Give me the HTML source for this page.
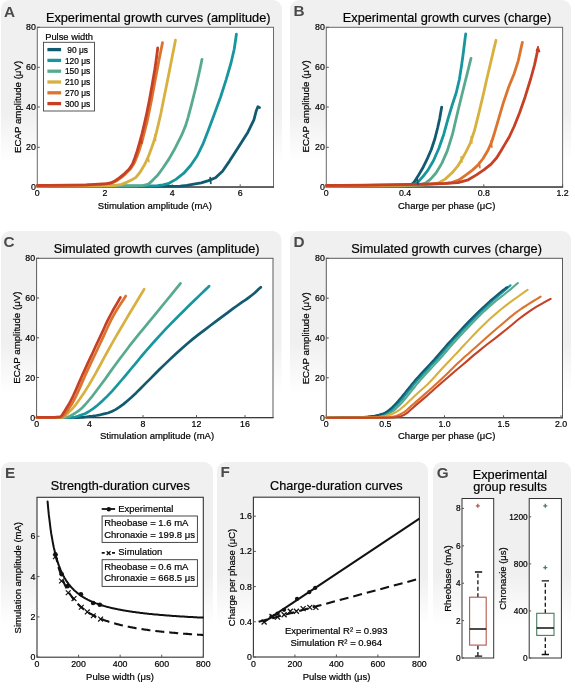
<!DOCTYPE html>
<html><head><meta charset="utf-8"><style>html,body{margin:0;padding:0;background:#fff;width:575px;height:693px;overflow:hidden}svg{display:block;filter:blur(0.35px)}</style></head><body>
<svg width="575" height="693" viewBox="0 0 575 693" font-family='"Liberation Sans", sans-serif'>
<defs><linearGradient id="pg" x1="0" y1="0" x2="0" y2="1"><stop offset="0" stop-color="#f0f0f0"/><stop offset="0.5" stop-color="#f0f0f0"/><stop offset="0.72" stop-color="#fff"/></linearGradient></defs>
<rect width="575" height="693" fill="#fff"/>
<rect x="1" y="0" width="281" height="226" rx="9" ry="9" fill="url(#pg)"/>
<rect x="290" y="0" width="281" height="226" rx="9" ry="9" fill="url(#pg)"/>
<rect x="1" y="231" width="280.5" height="226" rx="9" ry="9" fill="url(#pg)"/>
<rect x="290" y="231" width="281" height="226" rx="9" ry="9" fill="url(#pg)"/>
<rect x="1" y="462" width="212" height="226" rx="9" ry="9" fill="url(#pg)"/>
<rect x="217" y="462" width="211" height="226" rx="9" ry="9" fill="url(#pg)"/>
<rect x="433" y="462" width="138" height="226" rx="9" ry="9" fill="url(#pg)"/>
<text x="4" y="17" font-size="15.3" font-weight="bold" fill="#4a4a4a">A</text>
<text x="45.9" y="21.9" font-size="12.75" text-anchor="start" fill="#000" stroke="#000" stroke-width="0.2" >Experimental growth curves (amplitude)</text>
<rect x="37.3" y="27.3" width="236.2" height="159.5" fill="#fff" stroke="#6a6a6a" stroke-width="1.0"/>
<line x1="36.8" y1="187.1" x2="274.0" y2="187.1" stroke="#3a3a3a" stroke-width="1.1"/>
<line x1="37.3" y1="186.8" x2="37.3" y2="184.3" stroke="#555" stroke-width="1"/>
<text x="37.3" y="196.3" font-size="8.8" text-anchor="middle" fill="#000" stroke="#000" stroke-width="0.2" >0</text>
<line x1="104.9" y1="186.8" x2="104.9" y2="184.3" stroke="#555" stroke-width="1"/>
<text x="104.9" y="196.3" font-size="8.8" text-anchor="middle" fill="#000" stroke="#000" stroke-width="0.2" >2</text>
<line x1="172.2" y1="186.8" x2="172.2" y2="184.3" stroke="#555" stroke-width="1"/>
<text x="172.2" y="196.3" font-size="8.8" text-anchor="middle" fill="#000" stroke="#000" stroke-width="0.2" >4</text>
<line x1="240.2" y1="186.8" x2="240.2" y2="184.3" stroke="#555" stroke-width="1"/>
<text x="240.2" y="196.3" font-size="8.8" text-anchor="middle" fill="#000" stroke="#000" stroke-width="0.2" >6</text>
<line x1="37.3" y1="186.8" x2="39.8" y2="186.8" stroke="#555" stroke-width="1"/>
<text x="35.8" y="189.8" font-size="8.8" text-anchor="end" fill="#000" stroke="#000" stroke-width="0.2" >0</text>
<line x1="37.3" y1="147.3" x2="39.8" y2="147.3" stroke="#555" stroke-width="1"/>
<text x="35.8" y="150.3" font-size="8.8" text-anchor="end" fill="#000" stroke="#000" stroke-width="0.2" >20</text>
<line x1="37.3" y1="107" x2="39.8" y2="107" stroke="#555" stroke-width="1"/>
<text x="35.8" y="110" font-size="8.8" text-anchor="end" fill="#000" stroke="#000" stroke-width="0.2" >40</text>
<line x1="37.3" y1="67.3" x2="39.8" y2="67.3" stroke="#555" stroke-width="1"/>
<text x="35.8" y="70.3" font-size="8.8" text-anchor="end" fill="#000" stroke="#000" stroke-width="0.2" >60</text>
<line x1="37.3" y1="27.3" x2="39.8" y2="27.3" stroke="#555" stroke-width="1"/>
<text x="35.8" y="30.3" font-size="8.8" text-anchor="end" fill="#000" stroke="#000" stroke-width="0.2" >80</text>
<text x="97.8" y="209" font-size="9.5" text-anchor="start" fill="#000" stroke="#000" stroke-width="0.2" >Stimulation amplitude (mA)</text>
<text transform="translate(20.6,106.9) rotate(-90)" font-size="9.7" text-anchor="middle" stroke="#000" stroke-width="0.2">ECAP amplitude (μV)</text>
<polyline points="37.5,186.3 72.4,186.4 142.1,186.4 180.2,186.1 186.8,185.4 193.8,184.2 201.2,182.8 208.5,180.6 215.5,177.8 222.5,171.3 229.5,161.1 237.9,148.1 247.9,132.2 253.9,119.9 256.2,111.0 257.9,106.8 258.9,107.3 259.5,107.5" fill="none" stroke="#125a70" stroke-width="2.8" stroke-linejoin="round" stroke-linecap="round" />
<polyline points="37.5,186.0 65.6,186.0 121.9,186.0 152.5,185.9 157.5,185.6 163.0,184.8 169.0,183.3 175.9,179.4 183.8,173.2 190.8,165.3 197.1,156.0 202.9,144.2 208.4,130.1 214.2,114.5 220.5,97.3 226.0,80.1 231.0,63.0 234.2,49.3 235.7,39.2 236.4,34.2" fill="none" stroke="#18969e" stroke-width="2.8" stroke-linejoin="round" stroke-linecap="round" />
<polyline points="37.5,186.0 60.6,186.0 106.9,186.0 134.2,185.9 142.8,185.6 148.5,184.1 151.5,181.4 154.6,178.3 157.9,174.9 162.6,168.5 168.9,159.1 175.1,148.2 181.4,135.7 185.7,125.4 188.1,117.3 191.5,104.7 195.8,87.5 198.9,74.0 201.0,64.2 202.0,59.3" fill="none" stroke="#58aa8e" stroke-width="2.8" stroke-linejoin="round" stroke-linecap="round" />
<polyline points="37.5,186.0 53.1,185.9 84.4,185.9 104.7,185.7 114.1,185.6 121.6,184.4 127.2,182.1 131.9,179.8 135.7,177.6 139.9,172.5 144.7,164.6 148.9,155.2 152.9,144.3 156.0,134.1 158.3,124.7 160.9,113.2 163.6,99.8 166.5,85.5 169.5,70.5 172.1,57.3 174.4,45.8 175.5,40.1" fill="none" stroke="#d8b040" stroke-width="2.8" stroke-linejoin="round" stroke-linecap="round" />
<polyline points="37.5,185.8 48.1,185.7 69.4,185.4 86.8,185.1 100.2,184.6 109.0,183.7 113.0,182.6 117.2,180.4 121.8,177.1 126.2,173.1 130.8,168.4 134.4,162.8 137.1,156.2 139.6,149.2 141.9,141.8 144.2,133.0 146.8,123.0 149.2,111.5 151.8,98.5 154.2,85.2 156.8,71.8 159.1,59.4 161.4,48.3 162.5,42.7" fill="none" stroke="#dc742e" stroke-width="2.8" stroke-linejoin="round" stroke-linecap="round" />
<polyline points="37.5,185.5 48.1,185.4 69.4,185.1 86.2,184.8 98.8,184.2 106.9,183.7 110.6,182.9 114.9,180.9 119.6,177.7 124.3,173.8 129.0,169.2 132.5,164.0 134.8,158.0 137.2,150.9 139.5,142.9 141.9,134.1 144.2,124.7 146.8,113.0 149.6,99.0 152.2,84.5 154.8,69.5 156.4,58.5 157.3,51.5 157.7,48.0" fill="none" stroke="#c64025" stroke-width="2.8" stroke-linejoin="round" stroke-linecap="round" />
<line x1="210.2" y1="177.7" x2="210.8" y2="183.3" stroke="#125a70" stroke-width="1.8" stroke-linecap="round"/>
<line x1="155.0" y1="134.5" x2="155.6" y2="140.5" stroke="#d8b040" stroke-width="1.8" stroke-linecap="round"/>
<line x1="148.2" y1="156.5" x2="148.8" y2="161.5" stroke="#d8b040" stroke-width="1.8" stroke-linecap="round"/>
<line x1="141.2" y1="138.0" x2="141.8" y2="143.0" stroke="#c64025" stroke-width="1.8" stroke-linecap="round"/>
<text x="45.2" y="39.8" font-size="9.35" text-anchor="start" fill="#000" stroke="#000" stroke-width="0.2" >Pulse width</text>
<rect x="43.5" y="42.3" width="51" height="68.7" fill="#fff" stroke="#444" stroke-width="0.9"/>
<line x1="47.4" y1="49.6" x2="61.1" y2="49.6" stroke="#125a70" stroke-width="3.3"/>
<text x="77.6" y="52.7" font-size="8.4" text-anchor="middle" fill="#000" stroke="#000" stroke-width="0.2" >90 μs</text>
<line x1="47.4" y1="60.400000000000006" x2="61.1" y2="60.400000000000006" stroke="#18969e" stroke-width="3.3"/>
<text x="77.6" y="63.50000000000001" font-size="8.4" text-anchor="middle" fill="#000" stroke="#000" stroke-width="0.2" >120 μs</text>
<line x1="47.4" y1="71.2" x2="61.1" y2="71.2" stroke="#58aa8e" stroke-width="3.3"/>
<text x="77.6" y="74.3" font-size="8.4" text-anchor="middle" fill="#000" stroke="#000" stroke-width="0.2" >150 μs</text>
<line x1="47.4" y1="82.0" x2="61.1" y2="82.0" stroke="#d8b040" stroke-width="3.3"/>
<text x="77.6" y="85.1" font-size="8.4" text-anchor="middle" fill="#000" stroke="#000" stroke-width="0.2" >210 μs</text>
<line x1="47.4" y1="92.80000000000001" x2="61.1" y2="92.80000000000001" stroke="#dc742e" stroke-width="3.3"/>
<text x="77.6" y="95.9" font-size="8.4" text-anchor="middle" fill="#000" stroke="#000" stroke-width="0.2" >270 μs</text>
<line x1="47.4" y1="103.6" x2="61.1" y2="103.6" stroke="#c64025" stroke-width="3.3"/>
<text x="77.6" y="106.69999999999999" font-size="8.4" text-anchor="middle" fill="#000" stroke="#000" stroke-width="0.2" >300 μs</text>
<text x="293.5" y="16.1" font-size="15.3" font-weight="bold" fill="#4a4a4a">B</text>
<text x="342.8" y="21.8" font-size="12.75" text-anchor="start" fill="#000" stroke="#000" stroke-width="0.2" >Experimental growth curves (charge)</text>
<rect x="326.3" y="27.3" width="236.3" height="159.5" fill="#fff" stroke="#6a6a6a" stroke-width="1.0"/>
<line x1="325.8" y1="187.1" x2="563.1" y2="187.1" stroke="#3a3a3a" stroke-width="1.1"/>
<line x1="326.3" y1="186.8" x2="326.3" y2="184.3" stroke="#555" stroke-width="1"/>
<text x="326.3" y="196.3" font-size="8.8" text-anchor="middle" fill="#000" stroke="#000" stroke-width="0.2" >0</text>
<line x1="405" y1="186.8" x2="405" y2="184.3" stroke="#555" stroke-width="1"/>
<text x="405" y="196.3" font-size="8.8" text-anchor="middle" fill="#000" stroke="#000" stroke-width="0.2" >0.4</text>
<line x1="483.8" y1="186.8" x2="483.8" y2="184.3" stroke="#555" stroke-width="1"/>
<text x="483.8" y="196.3" font-size="8.8" text-anchor="middle" fill="#000" stroke="#000" stroke-width="0.2" >0.8</text>
<line x1="562.6" y1="186.8" x2="562.6" y2="184.3" stroke="#555" stroke-width="1"/>
<text x="562.6" y="196.3" font-size="8.8" text-anchor="middle" fill="#000" stroke="#000" stroke-width="0.2" >1.2</text>
<line x1="326.3" y1="186.8" x2="328.8" y2="186.8" stroke="#555" stroke-width="1"/>
<text x="324.8" y="189.8" font-size="8.8" text-anchor="end" fill="#000" stroke="#000" stroke-width="0.2" >0</text>
<line x1="326.3" y1="147.3" x2="328.8" y2="147.3" stroke="#555" stroke-width="1"/>
<text x="324.8" y="150.3" font-size="8.8" text-anchor="end" fill="#000" stroke="#000" stroke-width="0.2" >20</text>
<line x1="326.3" y1="107" x2="328.8" y2="107" stroke="#555" stroke-width="1"/>
<text x="324.8" y="110" font-size="8.8" text-anchor="end" fill="#000" stroke="#000" stroke-width="0.2" >40</text>
<line x1="326.3" y1="67.3" x2="328.8" y2="67.3" stroke="#555" stroke-width="1"/>
<text x="324.8" y="70.3" font-size="8.8" text-anchor="end" fill="#000" stroke="#000" stroke-width="0.2" >60</text>
<line x1="326.3" y1="27.3" x2="328.8" y2="27.3" stroke="#555" stroke-width="1"/>
<text x="324.8" y="30.3" font-size="8.8" text-anchor="end" fill="#000" stroke="#000" stroke-width="0.2" >80</text>
<text x="398" y="209.3" font-size="9.5" text-anchor="start" fill="#000" stroke="#000" stroke-width="0.2" >Charge per phase (μC)</text>
<text transform="translate(309.4,106.4) rotate(-90)" font-size="9.7" text-anchor="middle" stroke="#000" stroke-width="0.2">ECAP amplitude (μV)</text>
<polyline points="326.5,186.2 346.1,186.1 385.4,186.1 406.5,185.8 409.5,185.2 412.1,183.9 414.2,181.9 417.7,176.6 422.6,168.3 427.1,159.2 431.3,149.5 434.8,139.0 437.6,128.0 439.7,118.6 441.0,110.9 441.7,107.1" fill="none" stroke="#125a70" stroke-width="2.8" stroke-linejoin="round" stroke-linecap="round" />
<polyline points="326.5,186.0 344.9,186.0 381.6,186.0 403.5,185.8 410.5,185.2 415.4,183.9 418.1,181.9 422.3,177.3 427.8,170.4 433.4,160.7 438.9,148.2 443.8,134.2 448.0,118.9 452.2,105.0 456.3,92.5 459.4,79.2 461.6,65.3 463.4,52.3 464.9,40.0 465.7,33.9" fill="none" stroke="#18969e" stroke-width="2.8" stroke-linejoin="round" stroke-linecap="round" />
<polyline points="326.5,186.0 344.9,186.0 381.6,186.0 405.0,185.8 415.0,185.2 421.9,184.3 425.9,182.9 430.6,179.1 436.2,172.8 441.8,163.4 447.3,150.9 452.5,134.2 457.4,113.3 461.6,96.0 465.1,82.0 467.9,70.9 469.9,62.6 471.0,58.4" fill="none" stroke="#58aa8e" stroke-width="2.8" stroke-linejoin="round" stroke-linecap="round" />
<polyline points="326.5,186.0 344.9,185.9 381.6,185.6 407.5,185.2 422.5,184.8 432.9,183.9 438.8,182.8 445.2,179.1 452.1,172.8 457.7,166.2 461.9,159.3 466.1,151.6 470.2,143.3 474.4,130.8 478.6,114.1 482.8,96.7 486.9,78.5 490.8,62.2 494.2,47.6 496.0,40.3" fill="none" stroke="#d8b040" stroke-width="2.8" stroke-linejoin="round" stroke-linecap="round" />
<polyline points="326.5,185.8 344.9,185.6 381.6,185.2 410.0,184.8 430.0,184.2 443.9,183.6 451.7,182.6 459.1,179.8 466.1,174.9 472.4,170.1 477.9,165.1 483.1,158.5 488.0,150.2 491.8,141.5 494.6,132.5 498.4,119.7 503.3,102.9 508.5,87.6 514.1,73.7 518.3,60.6 521.0,48.4 522.4,42.3" fill="none" stroke="#dc742e" stroke-width="2.8" stroke-linejoin="round" stroke-linecap="round" />
<polyline points="326.5,185.5 339.9,185.4 366.6,185.1 395.0,184.7 425.0,184.1 446.0,183.4 458.0,182.6 468.2,179.8 476.5,174.9 484.2,169.7 491.1,164.1 496.7,157.8 500.9,150.9 505.1,143.9 509.2,137.0 514.1,126.5 519.6,112.7 525.2,96.7 530.8,78.5 534.6,64.6 536.7,54.9 537.7,50.0" fill="none" stroke="#c64025" stroke-width="2.8" stroke-linejoin="round" stroke-linecap="round" />
<line x1="471.2" y1="137.0" x2="471.8" y2="143.0" stroke="#d8b040" stroke-width="1.8" stroke-linecap="round"/>
<line x1="461.2" y1="157.0" x2="461.8" y2="162.0" stroke="#d8b040" stroke-width="1.8" stroke-linecap="round"/>
<line x1="491.2" y1="141.0" x2="491.8" y2="147.0" stroke="#dc742e" stroke-width="1.8" stroke-linecap="round"/>
<line x1="479.2" y1="162.5" x2="479.8" y2="167.5" stroke="#dc742e" stroke-width="1.8" stroke-linecap="round"/>
<line x1="417.2" y1="179.0" x2="417.8" y2="184.0" stroke="#125a70" stroke-width="1.8" stroke-linecap="round"/>
<path d="M536,51 L538,46 L540,52 Z" fill="#c64025" stroke="#c64025" stroke-width="1"/>
<text x="3.6" y="246.8" font-size="15.3" font-weight="bold" fill="#4a4a4a">C</text>
<text x="53.7" y="252.6" font-size="12.7" text-anchor="start" fill="#000" stroke="#000" stroke-width="0.2" >Simulated growth curves (amplitude)</text>
<rect x="36.6" y="258.3" width="236.4" height="159.3" fill="#fff" stroke="#5a5a5a" stroke-width="1.0"/>
<line x1="36.1" y1="417.6" x2="273.5" y2="417.6" stroke="#3a3a3a" stroke-width="1.1"/>
<line x1="36.6" y1="417.6" x2="36.6" y2="415.1" stroke="#555" stroke-width="1"/>
<text x="36.6" y="427.1" font-size="8.8" text-anchor="middle" fill="#000" stroke="#000" stroke-width="0.2" >0</text>
<line x1="89.5" y1="417.6" x2="89.5" y2="415.1" stroke="#555" stroke-width="1"/>
<text x="89.5" y="427.1" font-size="8.8" text-anchor="middle" fill="#000" stroke="#000" stroke-width="0.2" >4</text>
<line x1="143" y1="417.6" x2="143" y2="415.1" stroke="#555" stroke-width="1"/>
<text x="143" y="427.1" font-size="8.8" text-anchor="middle" fill="#000" stroke="#000" stroke-width="0.2" >8</text>
<line x1="196.5" y1="417.6" x2="196.5" y2="415.1" stroke="#555" stroke-width="1"/>
<text x="196.5" y="427.1" font-size="8.8" text-anchor="middle" fill="#000" stroke="#000" stroke-width="0.2" >12</text>
<line x1="245" y1="417.6" x2="245" y2="415.1" stroke="#555" stroke-width="1"/>
<text x="245" y="427.1" font-size="8.8" text-anchor="middle" fill="#000" stroke="#000" stroke-width="0.2" >16</text>
<line x1="36.6" y1="417.6" x2="39.1" y2="417.6" stroke="#555" stroke-width="1"/>
<text x="35.1" y="420.6" font-size="8.8" text-anchor="end" fill="#000" stroke="#000" stroke-width="0.2" >0</text>
<line x1="36.6" y1="377.5" x2="39.1" y2="377.5" stroke="#555" stroke-width="1"/>
<text x="35.1" y="380.5" font-size="8.8" text-anchor="end" fill="#000" stroke="#000" stroke-width="0.2" >20</text>
<line x1="36.6" y1="337.8" x2="39.1" y2="337.8" stroke="#555" stroke-width="1"/>
<text x="35.1" y="340.8" font-size="8.8" text-anchor="end" fill="#000" stroke="#000" stroke-width="0.2" >40</text>
<line x1="36.6" y1="298" x2="39.1" y2="298" stroke="#555" stroke-width="1"/>
<text x="35.1" y="301" font-size="8.8" text-anchor="end" fill="#000" stroke="#000" stroke-width="0.2" >60</text>
<line x1="36.6" y1="258.3" x2="39.1" y2="258.3" stroke="#555" stroke-width="1"/>
<text x="35.1" y="261.3" font-size="8.8" text-anchor="end" fill="#000" stroke="#000" stroke-width="0.2" >80</text>
<text x="100" y="439.3" font-size="9.5" text-anchor="start" fill="#000" stroke="#000" stroke-width="0.2" >Stimulation amplitude (mA)</text>
<text transform="translate(19.8,337.6) rotate(-90)" font-size="9.7" text-anchor="middle" stroke="#000" stroke-width="0.2">ECAP amplitude (μV)</text>
<polyline points="37.0,417.7 39.4,417.7 44.1,417.7 51.2,417.7 60.8,417.7 68.4,417.7 74.1,417.6 78.0,417.6 80.0,417.4 82.5,417.3 85.4,417.0 88.7,416.6 92.6,416.1 96.4,415.5 100.2,414.8 104.0,413.9 107.9,413.0 111.7,411.5 115.5,409.6 119.3,407.2 123.2,404.4 127.2,401.0 131.5,397.2 136.1,392.9 140.8,388.2 145.6,383.4 150.4,378.6 155.2,373.8 159.9,369.0 165.0,364.1 170.2,359.1 175.7,353.9 181.5,348.7 187.2,343.7 193.0,338.9 198.7,334.4 204.4,330.1 210.1,325.7 215.9,321.4 221.6,317.1 227.4,312.8 232.6,308.9 237.4,305.5 241.7,302.4 245.6,299.9 249.0,297.4 252.1,295.0 254.9,292.7 257.2,290.5 259.0,288.8 260.2,287.8 260.8,287.2" fill="none" stroke="#125a70" stroke-width="2.7" stroke-linejoin="round" stroke-linecap="round" />
<polyline points="37.0,417.6 38.9,417.6 42.8,417.6 48.6,417.6 56.4,417.6 62.6,417.6 67.4,417.5 70.7,417.5 72.6,417.4 74.9,417.0 77.7,416.2 81.0,415.1 84.9,413.7 88.9,411.5 93.2,408.6 97.8,405.0 102.5,400.8 107.3,396.1 112.1,391.1 116.9,385.7 121.7,380.0 126.5,374.3 131.3,368.5 136.1,362.8 140.8,357.0 145.6,351.4 150.4,345.9 155.2,340.5 159.9,335.3 164.7,330.1 169.5,325.1 174.3,320.2 179.0,315.5 184.1,310.5 189.3,305.3 194.8,300.0 200.6,294.4 204.9,290.3 207.8,287.5 209.2,286.1" fill="none" stroke="#18969e" stroke-width="2.7" stroke-linejoin="round" stroke-linecap="round" />
<polyline points="37.0,417.5 38.6,417.5 41.9,417.5 46.8,417.5 53.2,417.5 58.4,417.5 62.3,417.5 64.8,417.4 65.9,417.4 67.2,417.1 68.6,416.7 70.1,416.1 71.6,415.2 73.4,414.2 75.3,413.0 77.4,411.6 79.6,410.1 82.3,407.7 85.3,404.5 88.7,400.5 92.6,395.8 96.6,390.5 100.9,384.8 105.5,378.6 110.2,371.9 115.0,365.3 119.8,358.8 124.6,352.5 129.3,346.2 134.1,340.1 138.9,334.2 143.7,328.3 148.4,322.6 153.6,316.4 159.1,309.7 164.9,302.5 171.2,294.9 175.8,289.1 178.9,285.3 180.5,283.4" fill="none" stroke="#58aa8e" stroke-width="2.7" stroke-linejoin="round" stroke-linecap="round" />
<polyline points="37.0,417.4 38.5,417.4 41.5,417.4 46.0,417.4 52.0,417.4 56.7,417.4 60.0,417.4 62.1,417.4 62.8,417.3 63.5,417.1 64.4,416.5 65.4,415.7 66.4,414.6 67.7,413.4 69.1,411.9 70.7,410.3 72.6,408.5 74.9,405.7 77.7,402.0 81.0,397.2 84.9,391.5 88.7,385.4 92.5,378.9 96.3,372.1 100.2,365.0 104.0,357.9 107.8,351.0 111.6,344.1 115.5,337.4 119.8,330.0 124.6,321.9 129.8,313.0 135.6,303.5 139.9,296.3 142.8,291.5 144.2,289.1" fill="none" stroke="#d8b040" stroke-width="2.7" stroke-linejoin="round" stroke-linecap="round" />
<polyline points="37.0,417.3 38.4,417.3 41.1,417.3 45.2,417.3 50.8,417.3 55.1,417.3 58.4,417.2 60.5,417.1 61.5,417.0 62.5,416.6 63.4,415.9 64.3,415.0 65.2,413.8 66.3,412.2 67.8,410.1 69.5,407.5 71.5,404.6 73.7,400.7 76.2,395.8 78.8,390.1 81.7,383.4 84.8,376.3 88.2,368.9 91.8,361.1 95.7,353.0 99.3,345.3 102.7,338.1 105.8,331.3 108.7,325.0 111.6,319.0 114.7,313.4 117.8,308.2 121.0,303.3 123.4,299.7 125.0,297.2 125.8,296.0" fill="none" stroke="#dc742e" stroke-width="2.7" stroke-linejoin="round" stroke-linecap="round" />
<polyline points="37.0,417.3 38.3,417.3 40.9,417.3 44.9,417.3 50.1,417.3 54.2,417.3 57.2,417.2 59.1,417.1 59.9,417.0 60.6,416.6 61.4,415.9 62.1,415.0 62.9,413.8 63.9,412.2 65.2,410.1 66.8,407.5 68.7,404.6 70.8,400.7 73.2,395.8 75.8,390.1 78.7,383.4 81.8,376.3 85.2,368.9 88.7,361.1 92.6,353.0 96.1,345.3 99.5,338.2 102.6,331.5 105.4,325.2 108.2,319.4 111.0,314.0 113.7,309.0 116.4,304.4 118.4,301.0 119.7,298.6 120.4,297.5" fill="none" stroke="#c64025" stroke-width="2.7" stroke-linejoin="round" stroke-linecap="round" />
<text x="293.5" y="247" font-size="15.3" font-weight="bold" fill="#4a4a4a">D</text>
<text x="351.3" y="252.8" font-size="12.75" text-anchor="start" fill="#000" stroke="#000" stroke-width="0.2" >Simulated growth curves (charge)</text>
<rect x="326.3" y="258.3" width="236.2" height="159.5" fill="#fff" stroke="#5a5a5a" stroke-width="1.0"/>
<line x1="325.8" y1="417.8" x2="563.0" y2="417.8" stroke="#3a3a3a" stroke-width="1.1"/>
<line x1="326.3" y1="417.8" x2="326.3" y2="415.3" stroke="#555" stroke-width="1"/>
<text x="326.3" y="427.3" font-size="8.8" text-anchor="middle" fill="#000" stroke="#000" stroke-width="0.2" >0</text>
<line x1="385.4" y1="417.8" x2="385.4" y2="415.3" stroke="#555" stroke-width="1"/>
<text x="385.4" y="427.3" font-size="8.8" text-anchor="middle" fill="#000" stroke="#000" stroke-width="0.2" >0.5</text>
<line x1="444.5" y1="417.8" x2="444.5" y2="415.3" stroke="#555" stroke-width="1"/>
<text x="444.5" y="427.3" font-size="8.8" text-anchor="middle" fill="#000" stroke="#000" stroke-width="0.2" >1.0</text>
<line x1="503.6" y1="417.8" x2="503.6" y2="415.3" stroke="#555" stroke-width="1"/>
<text x="503.6" y="427.3" font-size="8.8" text-anchor="middle" fill="#000" stroke="#000" stroke-width="0.2" >1.5</text>
<line x1="561" y1="417.8" x2="561" y2="415.3" stroke="#555" stroke-width="1"/>
<text x="561" y="427.3" font-size="8.8" text-anchor="middle" fill="#000" stroke="#000" stroke-width="0.2" >2.0</text>
<line x1="326.3" y1="417.8" x2="328.8" y2="417.8" stroke="#555" stroke-width="1"/>
<text x="324.8" y="420.8" font-size="8.8" text-anchor="end" fill="#000" stroke="#000" stroke-width="0.2" >0</text>
<line x1="326.3" y1="377.8" x2="328.8" y2="377.8" stroke="#555" stroke-width="1"/>
<text x="324.8" y="380.8" font-size="8.8" text-anchor="end" fill="#000" stroke="#000" stroke-width="0.2" >20</text>
<line x1="326.3" y1="338" x2="328.8" y2="338" stroke="#555" stroke-width="1"/>
<text x="324.8" y="341" font-size="8.8" text-anchor="end" fill="#000" stroke="#000" stroke-width="0.2" >40</text>
<line x1="326.3" y1="298.2" x2="328.8" y2="298.2" stroke="#555" stroke-width="1"/>
<text x="324.8" y="301.2" font-size="8.8" text-anchor="end" fill="#000" stroke="#000" stroke-width="0.2" >60</text>
<line x1="326.3" y1="258.3" x2="328.8" y2="258.3" stroke="#555" stroke-width="1"/>
<text x="324.8" y="261.3" font-size="8.8" text-anchor="end" fill="#000" stroke="#000" stroke-width="0.2" >80</text>
<text x="398" y="439.1" font-size="9.5" text-anchor="start" fill="#000" stroke="#000" stroke-width="0.2" >Charge per phase (μC)</text>
<text transform="translate(309.3,338.3) rotate(-90)" font-size="9.7" text-anchor="middle" stroke="#000" stroke-width="0.2">ECAP amplitude (μV)</text>
<polyline points="331.7,418.0 333.8,418.0 338.0,418.0 344.3,417.9 352.6,417.9 359.5,417.8 364.7,417.7 368.5,417.5 370.6,417.3 372.8,417.1 375.0,416.8 377.2,416.5 379.3,416.3 381.5,415.8 383.7,415.3 385.9,414.6 388.0,413.9 390.1,412.9 392.1,411.7 393.9,410.4 395.6,408.9 397.3,407.3 399.1,405.5 400.8,403.7 402.6,401.7 404.3,399.7 406.1,397.7 407.8,395.5 409.6,393.4 411.3,391.2 413.1,389.0 414.8,386.8 416.5,384.7 418.5,382.3 420.6,379.8 423.0,377.2 425.6,374.3 428.2,371.5 430.8,368.7 433.4,365.9 436.1,363.0 438.7,360.2 441.3,357.2 443.9,354.2 446.5,351.2 449.4,347.9 452.5,344.3 455.9,340.6 459.6,336.5 463.8,332.1 468.3,327.3 473.3,322.1 478.8,316.5 484.3,311.1 490.1,305.9 495.9,300.9 502.0,296.2 506.9,292.2 510.8,289.1 513.5,286.8 515.2,285.3 516.5,284.2 517.4,283.5 517.8,283.1" fill="none" stroke="#58aa8e" stroke-width="2.1" stroke-linejoin="round" stroke-linecap="round" />
<polyline points="329.3,417.5 331.4,417.5 335.6,417.5 341.9,417.4 350.2,417.4 357.1,417.3 362.3,417.2 366.1,417.0 368.2,416.8 370.4,416.6 372.6,416.3 374.8,416.0 376.9,415.8 379.1,415.3 381.3,414.8 383.5,414.1 385.6,413.4 387.7,412.4 389.6,411.2 391.5,409.9 393.2,408.4 394.9,406.8 396.7,405.0 398.4,403.2 400.2,401.2 401.9,399.2 403.7,397.2 405.4,395.0 407.2,392.9 408.9,390.7 410.7,388.5 412.4,386.3 414.1,384.2 416.1,381.8 418.2,379.3 420.6,376.7 423.2,373.8 425.8,371.0 428.4,368.2 431.0,365.4 433.7,362.5 436.3,359.7 438.9,356.7 441.5,353.7 444.1,350.7 447.0,347.4 450.1,343.8 453.5,340.1 457.3,336.0 461.4,331.6 465.9,326.8 470.9,321.6 476.4,316.0 481.7,310.7 487.1,305.7 492.3,300.9 497.6,296.5 501.8,292.9 505.1,290.1 507.3,288.1 508.6,287.0 509.5,286.1 510.2,285.6 510.5,285.3" fill="none" stroke="#18969e" stroke-width="2.1" stroke-linejoin="round" stroke-linecap="round" />
<polyline points="327.0,417.5 329.1,417.5 333.3,417.5 339.6,417.4 347.9,417.4 354.8,417.3 360.0,417.2 363.8,417.0 365.9,416.8 368.1,416.6 370.3,416.3 372.5,416.0 374.6,415.8 376.8,415.3 379.0,414.8 381.2,414.1 383.3,413.4 385.4,412.4 387.4,411.2 389.2,409.9 390.9,408.4 392.6,406.8 394.4,405.0 396.1,403.2 397.9,401.2 399.6,399.2 401.4,397.2 403.1,395.0 404.9,392.9 406.6,390.7 408.4,388.5 410.1,386.3 411.8,384.2 413.8,381.8 415.9,379.3 418.3,376.7 420.9,373.8 423.5,371.0 426.1,368.2 428.7,365.4 431.4,362.5 434.0,359.7 436.6,356.7 439.2,353.7 441.8,350.7 444.7,347.4 447.8,343.8 451.2,340.1 455.0,336.0 459.1,331.6 463.6,326.8 468.6,321.6 474.1,316.0 479.4,310.7 484.8,305.7 490.0,300.9 495.3,296.5 499.4,293.0 502.6,290.4 504.7,288.8 505.7,288.0 506.5,287.5 507.0,287.2 507.3,287.0" fill="none" stroke="#125a70" stroke-width="2.1" stroke-linejoin="round" stroke-linecap="round" />
<polyline points="326.5,417.6 329.5,417.6 335.6,417.6 344.7,417.5 356.8,417.5 366.6,417.4 374.0,417.2 379.2,416.9 381.9,416.6 384.7,416.2 387.4,415.5 390.0,414.7 392.6,413.7 395.1,412.5 397.5,411.1 399.8,409.6 401.9,407.8 404.2,405.9 406.6,403.7 409.1,401.3 411.8,398.7 414.6,396.0 417.6,393.2 420.9,390.2 424.4,387.2 427.9,383.9 431.3,380.4 434.8,376.8 438.3,372.8 441.9,368.8 445.7,364.7 449.7,360.5 453.8,356.1 458.3,351.4 463.0,346.3 468.1,340.9 473.6,335.0 478.9,329.5 484.3,324.2 489.5,319.3 494.8,314.6 500.2,310.0 506.0,305.4 512.0,300.9 518.2,296.5 522.9,293.1 526.0,290.9 527.6,289.8" fill="none" stroke="#d8b040" stroke-width="2.1" stroke-linejoin="round" stroke-linecap="round" />
<polyline points="326.5,417.7 330.2,417.7 337.5,417.7 348.4,417.6 363.1,417.6 374.6,417.5 383.2,417.3 388.7,417.1 391.1,416.9 393.5,416.5 395.8,415.9 398.1,415.2 400.2,414.3 402.4,413.2 404.6,411.8 406.8,410.1 408.9,408.1 411.4,405.9 414.3,403.4 417.4,400.6 420.9,397.6 424.5,394.4 428.2,391.2 432.0,387.8 435.8,384.3 439.9,380.6 444.2,376.6 448.6,372.3 453.1,367.7 457.4,363.6 461.4,359.9 465.0,356.5 468.4,353.7 472.2,350.3 476.5,346.5 481.2,342.3 486.5,337.5 491.9,332.7 497.7,327.8 503.7,322.7 509.9,317.4 515.9,312.7 521.7,308.5 527.3,304.8 532.6,301.5 536.6,299.1 539.3,297.5 540.6,296.7" fill="none" stroke="#dc742e" stroke-width="2.1" stroke-linejoin="round" stroke-linecap="round" />
<polyline points="326.5,417.8 330.5,417.8 338.4,417.8 350.3,417.8 366.2,417.8 378.6,417.8 387.6,417.7 393.1,417.5 395.2,417.3 397.2,417.0 399.1,416.6 400.9,416.2 402.6,415.6 404.4,414.7 406.4,413.4 408.5,411.8 410.6,409.8 413.0,407.7 415.6,405.4 418.5,402.9 421.5,400.4 424.8,397.6 428.3,394.5 432.0,391.3 435.8,387.8 439.9,384.2 444.2,380.5 448.6,376.8 453.1,372.8 457.9,368.8 462.7,364.7 467.8,360.4 472.9,355.9 478.2,351.6 483.5,347.3 488.9,343.0 494.4,338.9 500.1,334.4 505.9,329.7 512.0,324.8 518.2,319.5 524.4,314.8 530.4,310.6 536.2,306.9 542.0,303.6 546.3,301.2 549.2,299.6 550.6,298.8" fill="none" stroke="#c64025" stroke-width="2.1" stroke-linejoin="round" stroke-linecap="round" />
<text x="4.9" y="478.2" font-size="15.3" font-weight="bold" fill="#4a4a4a">E</text>
<text x="50.8" y="490" font-size="12.7" text-anchor="start" fill="#000" stroke="#000" stroke-width="0.2" >Strength-duration curves</text>
<rect x="37.0" y="497.3" width="166.3" height="159.90000000000003" fill="#fff" stroke="#333" stroke-width="1.1"/>
<line x1="37.0" y1="657.2" x2="37.0" y2="654.7" stroke="#555" stroke-width="1"/>
<text x="37.0" y="666.7" font-size="8.8" text-anchor="middle" fill="#000" stroke="#000" stroke-width="0.2" >0</text>
<line x1="78.575" y1="657.2" x2="78.575" y2="654.7" stroke="#555" stroke-width="1"/>
<text x="78.575" y="666.7" font-size="8.8" text-anchor="middle" fill="#000" stroke="#000" stroke-width="0.2" >200</text>
<line x1="120.15" y1="657.2" x2="120.15" y2="654.7" stroke="#555" stroke-width="1"/>
<text x="120.15" y="666.7" font-size="8.8" text-anchor="middle" fill="#000" stroke="#000" stroke-width="0.2" >400</text>
<line x1="161.725" y1="657.2" x2="161.725" y2="654.7" stroke="#555" stroke-width="1"/>
<text x="161.725" y="666.7" font-size="8.8" text-anchor="middle" fill="#000" stroke="#000" stroke-width="0.2" >600</text>
<line x1="203.3" y1="657.2" x2="203.3" y2="654.7" stroke="#555" stroke-width="1"/>
<text x="203.3" y="666.7" font-size="8.8" text-anchor="middle" fill="#000" stroke="#000" stroke-width="0.2" >800</text>
<line x1="37.0" y1="657.2" x2="39.5" y2="657.2" stroke="#555" stroke-width="1"/>
<text x="35.5" y="660.2" font-size="8.8" text-anchor="end" fill="#000" stroke="#000" stroke-width="0.2" >0</text>
<line x1="37.0" y1="616.9000000000001" x2="39.5" y2="616.9000000000001" stroke="#555" stroke-width="1"/>
<text x="35.5" y="619.9000000000001" font-size="8.8" text-anchor="end" fill="#000" stroke="#000" stroke-width="0.2" >2</text>
<line x1="37.0" y1="576.6" x2="39.5" y2="576.6" stroke="#555" stroke-width="1"/>
<text x="35.5" y="579.6" font-size="8.8" text-anchor="end" fill="#000" stroke="#000" stroke-width="0.2" >4</text>
<line x1="37.0" y1="536.3000000000001" x2="39.5" y2="536.3000000000001" stroke="#555" stroke-width="1"/>
<text x="35.5" y="539.3000000000001" font-size="8.8" text-anchor="end" fill="#000" stroke="#000" stroke-width="0.2" >6</text>
<text x="86.1" y="679.6" font-size="9.5" text-anchor="start" fill="#000" stroke="#000" stroke-width="0.2" >Pulse width (μs)</text>
<text transform="translate(21,577.7) rotate(-90)" font-size="9.5" text-anchor="middle" stroke="#000" stroke-width="0.2">Simulation amplitude (mA)</text>
<polyline points="47.6,501.6 48.2,508.5 48.8,514.7 49.5,520.2 50.1,525.2 50.7,529.8 51.3,534.0 52.0,537.8 52.6,541.3 53.2,544.5 53.8,547.5 54.5,550.3 55.1,552.9 55.7,555.3 56.3,557.6 57.0,559.7 57.6,561.7 58.2,563.6 58.8,565.4 59.5,567.0 60.1,568.6 60.7,570.1 61.3,571.5 61.9,572.9 62.6,574.2 63.2,575.4 63.8,576.6 64.4,577.7 65.1,578.7 65.7,579.8 66.3,580.7 66.9,581.7 67.6,582.6 68.2,583.4 68.8,584.3 69.4,585.0 70.1,585.8 70.7,586.5 71.3,587.3 71.9,587.9 72.5,588.6 73.2,589.2 73.8,589.9 74.4,590.4 75.0,591.0 75.7,591.6 76.3,592.1 76.9,592.6 77.5,593.2 78.2,593.6 78.8,594.1 79.4,594.6 80.0,595.0 80.7,595.5 81.3,595.9 81.9,596.3 82.5,596.7 83.1,597.1 83.8,597.5 84.4,597.8 85.0,598.2 85.6,598.6 86.3,598.9 86.9,599.2 87.5,599.6 88.1,599.9 88.8,600.2 89.4,600.5 90.0,600.8 90.6,601.1 91.3,601.3 91.9,601.6 92.5,601.9 93.1,602.2 93.7,602.4 94.4,602.7 95.0,602.9 95.6,603.2 96.2,603.4 96.9,603.6 97.5,603.8 98.1,604.1 98.7,604.3 99.4,604.5 100.0,604.7 100.6,604.9 101.2,605.1 101.9,605.3 102.5,605.5 103.1,605.7 103.7,605.9 104.4,606.1 105.0,606.2 105.6,606.4 106.2,606.6 106.8,606.8 107.5,606.9 108.1,607.1 108.7,607.2 109.3,607.4 110.0,607.6 110.6,607.7 111.2,607.9 111.8,608.0 112.5,608.2 113.1,608.3 113.7,608.4 114.3,608.6 115.0,608.7 115.6,608.8 116.2,609.0 116.8,609.1 117.4,609.2 118.1,609.4 118.7,609.5 119.3,609.6 119.9,609.7 120.6,609.8 121.2,610.0 121.8,610.1 122.4,610.2 123.1,610.3 123.7,610.4 124.3,610.5 124.9,610.6 125.6,610.7 126.2,610.8 126.8,610.9 127.4,611.0 128.0,611.1 128.7,611.2 129.3,611.3 129.9,611.4 130.5,611.5 131.2,611.6 131.8,611.7 132.4,611.8 133.0,611.9 133.7,612.0 134.3,612.1 134.9,612.1 135.5,612.2 136.2,612.3 136.8,612.4 137.4,612.5 138.0,612.6 138.7,612.6 139.3,612.7 139.9,612.8 140.5,612.9 141.1,612.9 141.8,613.0 142.4,613.1 143.0,613.2 143.6,613.2 144.3,613.3 144.9,613.4 145.5,613.5 146.1,613.5 146.8,613.6 147.4,613.7 148.0,613.7 148.6,613.8 149.3,613.9 149.9,613.9 150.5,614.0 151.1,614.1 151.7,614.1 152.4,614.2 153.0,614.2 153.6,614.3 154.2,614.4 154.9,614.4 155.5,614.5 156.1,614.5 156.7,614.6 157.4,614.6 158.0,614.7 158.6,614.8 159.2,614.8 159.9,614.9 160.5,614.9 161.1,615.0 161.7,615.0 162.3,615.1 163.0,615.1 163.6,615.2 164.2,615.2 164.8,615.3 165.5,615.3 166.1,615.4 166.7,615.4 167.3,615.5 168.0,615.5 168.6,615.6 169.2,615.6 169.8,615.7 170.5,615.7 171.1,615.8 171.7,615.8 172.3,615.9 173.0,615.9 173.6,615.9 174.2,616.0 174.8,616.0 175.4,616.1 176.1,616.1 176.7,616.2 177.3,616.2 177.9,616.2 178.6,616.3 179.2,616.3 179.8,616.4 180.4,616.4 181.1,616.4 181.7,616.5 182.3,616.5 182.9,616.6 183.6,616.6 184.2,616.6 184.8,616.7 185.4,616.7 186.0,616.7 186.7,616.8 187.3,616.8 187.9,616.9 188.5,616.9 189.2,616.9 189.8,617.0 190.4,617.0 191.0,617.0 191.7,617.1 192.3,617.1 192.9,617.1 193.5,617.2 194.2,617.2 194.8,617.2 195.4,617.3 196.0,617.3 196.6,617.3 197.3,617.4 197.9,617.4 198.5,617.4 199.1,617.5 199.8,617.5 200.4,617.5 201.0,617.6 201.6,617.6 202.3,617.6 202.9,617.6" fill="none" stroke="#111" stroke-width="2.0" stroke-linejoin="round" stroke-linecap="round" />
<polyline points="55.3,553.3 55.9,556.3 56.5,559.1 57.2,561.8 57.8,564.3 58.4,566.6 59.0,568.9 59.7,571.0 60.3,572.9 60.9,574.8 61.5,576.6 62.2,578.3 62.8,579.9 63.4,581.5 64.0,582.9 64.6,584.3 65.3,585.7 65.9,587.0 66.5,588.2 67.1,589.4 67.8,590.5 68.4,591.6 69.0,592.6 69.6,593.6 70.3,594.6 70.9,595.5 71.5,596.4 72.1,597.3 72.8,598.1 73.4,598.9 74.0,599.7 74.6,600.5 75.2,601.2 75.9,601.9 76.5,602.6 77.1,603.2 77.7,603.9 78.4,604.5 79.0,605.1 79.6,605.7 80.2,606.3 80.9,606.8 81.5,607.3 82.1,607.9 82.7,608.4 83.4,608.9 84.0,609.3 84.6,609.8 85.2,610.3 85.9,610.7 86.5,611.2 87.1,611.6 87.7,612.0 88.3,612.4 89.0,612.8 89.6,613.2 90.2,613.5 90.8,613.9 91.5,614.3 92.1,614.6 92.7,615.0 93.3,615.3 94.0,615.6 94.6,615.9 95.2,616.2 95.8,616.6 96.5,616.9 97.1,617.1 97.7,617.4 98.3,617.7 98.9,618.0 99.6,618.3 100.2,618.5 100.8,618.8 101.4,619.0 102.1,619.3 102.7,619.5 103.3,619.8 103.9,620.0 104.6,620.2 105.2,620.5 105.8,620.7 106.4,620.9 107.1,621.1 107.7,621.3 108.3,621.5 108.9,621.8 109.5,622.0 110.2,622.1 110.8,622.3 111.4,622.5 112.0,622.7 112.7,622.9 113.3,623.1 113.9,623.3 114.5,623.4 115.2,623.6 115.8,623.8 116.4,624.0 117.0,624.1 117.7,624.3 118.3,624.4 118.9,624.6 119.5,624.8 120.2,624.9 120.8,625.1 121.4,625.2 122.0,625.3 122.6,625.5 123.3,625.6 123.9,625.8 124.5,625.9 125.1,626.0 125.8,626.2 126.4,626.3 127.0,626.4 127.6,626.6 128.3,626.7 128.9,626.8 129.5,626.9 130.1,627.1 130.8,627.2 131.4,627.3 132.0,627.4 132.6,627.5 133.2,627.7 133.9,627.8 134.5,627.9 135.1,628.0 135.7,628.1 136.4,628.2 137.0,628.3 137.6,628.4 138.2,628.5 138.9,628.6 139.5,628.7 140.1,628.8 140.7,628.9 141.4,629.0 142.0,629.1 142.6,629.2 143.2,629.3 143.8,629.4 144.5,629.5 145.1,629.6 145.7,629.7 146.3,629.7 147.0,629.8 147.6,629.9 148.2,630.0 148.8,630.1 149.5,630.2 150.1,630.3 150.7,630.3 151.3,630.4 152.0,630.5 152.6,630.6 153.2,630.7 153.8,630.7 154.4,630.8 155.1,630.9 155.7,631.0 156.3,631.0 156.9,631.1 157.6,631.2 158.2,631.2 158.8,631.3 159.4,631.4 160.1,631.5 160.7,631.5 161.3,631.6 161.9,631.7 162.6,631.7 163.2,631.8 163.8,631.9 164.4,631.9 165.1,632.0 165.7,632.1 166.3,632.1 166.9,632.2 167.5,632.2 168.2,632.3 168.8,632.4 169.4,632.4 170.0,632.5 170.7,632.5 171.3,632.6 171.9,632.7 172.5,632.7 173.2,632.8 173.8,632.8 174.4,632.9 175.0,632.9 175.7,633.0 176.3,633.0 176.9,633.1 177.5,633.2 178.1,633.2 178.8,633.3 179.4,633.3 180.0,633.4 180.6,633.4 181.3,633.5 181.9,633.5 182.5,633.6 183.1,633.6 183.8,633.7 184.4,633.7 185.0,633.8 185.6,633.8 186.3,633.9 186.9,633.9 187.5,633.9 188.1,634.0 188.7,634.0 189.4,634.1 190.0,634.1 190.6,634.2 191.2,634.2 191.9,634.3 192.5,634.3 193.1,634.3 193.7,634.4 194.4,634.4 195.0,634.5 195.6,634.5 196.2,634.6 196.9,634.6 197.5,634.6 198.1,634.7 198.7,634.7 199.4,634.8 200.0,634.8 200.6,634.8 201.2,634.9 201.8,634.9 202.5,635.0 203.1,635.0" fill="none" stroke="#111" stroke-width="2.1" stroke-linejoin="round" stroke-linecap="butt" stroke-dasharray="9,5"/>
<circle cx="55.4" cy="554.4" r="2.3" fill="#111"/>
<circle cx="61.7" cy="574.2" r="2.3" fill="#111"/>
<circle cx="67.8" cy="586.1" r="2.3" fill="#111"/>
<circle cx="80.9" cy="594.3" r="2.3" fill="#111"/>
<circle cx="93.1" cy="603.0" r="2.3" fill="#111"/>
<circle cx="99.8" cy="604.8" r="2.3" fill="#111"/>
<path d="M53.0,554.3L57.8,559.1M53.0,559.1L57.8,554.3" stroke="#111" stroke-width="1.2"/>
<path d="M59.1,578.6L63.9,583.4M59.1,583.4L63.9,578.6" stroke="#111" stroke-width="1.2"/>
<path d="M65.8,590.3L70.6,595.1M65.8,595.1L70.6,590.3" stroke="#111" stroke-width="1.2"/>
<path d="M71.6,596.2L76.4,601.0M71.6,601.0L76.4,596.2" stroke="#111" stroke-width="1.2"/>
<path d="M78.9,604.8L83.7,609.6M78.9,609.6L83.7,604.8" stroke="#111" stroke-width="1.2"/>
<path d="M84.9,609.5L89.7,614.3M84.9,614.3L89.7,609.5" stroke="#111" stroke-width="1.2"/>
<path d="M90.9,613.3L95.7,618.1M90.9,618.1L95.7,613.3" stroke="#111" stroke-width="1.2"/>
<path d="M98.2,616.7L103.0,621.5M98.2,621.5L103.0,616.7" stroke="#111" stroke-width="1.2"/>
<line x1="101.7" y1="509" x2="115.1" y2="509" stroke="#111" stroke-width="1.8"/>
<circle cx="108.8" cy="509.2" r="2.2" fill="#111"/>
<text x="118.3" y="511.8" font-size="9.45" text-anchor="start" fill="#000" stroke="#000" stroke-width="0.2" >Experimental</text>
<rect x="102.1" y="516" width="95.3" height="26.4" fill="#fff" stroke="#333" stroke-width="0.9"/>
<text x="104.2" y="526" font-size="9.5" text-anchor="start" fill="#000" stroke="#000" stroke-width="0.2" >Rheobase = 1.6 mA</text>
<text x="104.2" y="537.5" font-size="9.5" text-anchor="start" fill="#000" stroke="#000" stroke-width="0.2" >Chronaxie = 199.8 μs</text>
<path d="M101.7,552.8h3M112,552.8h3" stroke="#111" stroke-width="1.8"/>
<path d="M106.7,551.2L110.5,555.0M106.7,555.0L110.5,551.2" stroke="#111" stroke-width="1.3"/>
<text x="118.3" y="555.3" font-size="9.45" text-anchor="start" fill="#000" stroke="#000" stroke-width="0.2" >Simulation</text>
<rect x="102.1" y="559.7" width="95.3" height="26.7" fill="#fff" stroke="#333" stroke-width="0.9"/>
<text x="104.2" y="569.6" font-size="9.5" text-anchor="start" fill="#000" stroke="#000" stroke-width="0.2" >Rheobase = 0.6 mA</text>
<text x="104.2" y="581.1" font-size="9.5" text-anchor="start" fill="#000" stroke="#000" stroke-width="0.2" >Chronaxie = 668.5 μs</text>
<text x="220.6" y="477.2" font-size="15.3" font-weight="bold" fill="#4a4a4a">F</text>
<text x="270" y="490" font-size="12.7" text-anchor="start" fill="#000" stroke="#000" stroke-width="0.2" >Charge-duration curves</text>
<rect x="253.4" y="497.2" width="165.99999999999997" height="159.8" fill="#fff" stroke="#333" stroke-width="1.1"/>
<line x1="253.4" y1="657.0" x2="253.4" y2="654.5" stroke="#555" stroke-width="1"/>
<text x="253.4" y="666.5" font-size="8.8" text-anchor="middle" fill="#000" stroke="#000" stroke-width="0.2" >0</text>
<line x1="294.9" y1="657.0" x2="294.9" y2="654.5" stroke="#555" stroke-width="1"/>
<text x="294.9" y="666.5" font-size="8.8" text-anchor="middle" fill="#000" stroke="#000" stroke-width="0.2" >200</text>
<line x1="336.4" y1="657.0" x2="336.4" y2="654.5" stroke="#555" stroke-width="1"/>
<text x="336.4" y="666.5" font-size="8.8" text-anchor="middle" fill="#000" stroke="#000" stroke-width="0.2" >400</text>
<line x1="377.9" y1="657.0" x2="377.9" y2="654.5" stroke="#555" stroke-width="1"/>
<text x="377.9" y="666.5" font-size="8.8" text-anchor="middle" fill="#000" stroke="#000" stroke-width="0.2" >600</text>
<line x1="419.4" y1="657.0" x2="419.4" y2="654.5" stroke="#555" stroke-width="1"/>
<text x="419.4" y="666.5" font-size="8.8" text-anchor="middle" fill="#000" stroke="#000" stroke-width="0.2" >800</text>
<line x1="253.4" y1="657.0" x2="255.9" y2="657.0" stroke="#555" stroke-width="1"/>
<text x="251.9" y="660.0" font-size="8.8" text-anchor="end" fill="#000" stroke="#000" stroke-width="0.2" >0</text>
<line x1="253.4" y1="621.8" x2="255.9" y2="621.8" stroke="#555" stroke-width="1"/>
<text x="251.9" y="624.8" font-size="8.8" text-anchor="end" fill="#000" stroke="#000" stroke-width="0.2" >0.4</text>
<line x1="253.4" y1="586.6" x2="255.9" y2="586.6" stroke="#555" stroke-width="1"/>
<text x="251.9" y="589.6" font-size="8.8" text-anchor="end" fill="#000" stroke="#000" stroke-width="0.2" >0.8</text>
<line x1="253.4" y1="551.4" x2="255.9" y2="551.4" stroke="#555" stroke-width="1"/>
<text x="251.9" y="554.4" font-size="8.8" text-anchor="end" fill="#000" stroke="#000" stroke-width="0.2" >1.2</text>
<line x1="253.4" y1="516.2" x2="255.9" y2="516.2" stroke="#555" stroke-width="1"/>
<text x="251.9" y="519.2" font-size="8.8" text-anchor="end" fill="#000" stroke="#000" stroke-width="0.2" >1.6</text>
<text x="302.7" y="679.5" font-size="9.5" text-anchor="start" fill="#000" stroke="#000" stroke-width="0.2" >Pulse width (μs)</text>
<text transform="translate(234.5,577.5) rotate(-90)" font-size="9.5" text-anchor="middle" stroke="#000" stroke-width="0.2">Charge per phase (μC)</text>
<line x1="263.8" y1="622.1" x2="419.4" y2="518.6" stroke="#111" stroke-width="2.0"/>
<line x1="258.6" y1="621.8" x2="419.4" y2="578.7" stroke="#111" stroke-width="2.1" stroke-dasharray="9,5"/>
<circle cx="271.5" cy="616.5" r="2.1" fill="#111"/>
<circle cx="277.5" cy="613.5" r="2.1" fill="#111"/>
<circle cx="284.1" cy="609.8" r="2.1" fill="#111"/>
<circle cx="297.0" cy="598.9" r="2.1" fill="#111"/>
<circle cx="309.2" cy="592.2" r="2.1" fill="#111"/>
<circle cx="315.2" cy="587.9" r="2.1" fill="#111"/>
<path d="M261.6,619.5L266.6,624.5M261.6,624.5L266.6,619.5" stroke="#111" stroke-width="1.25"/>
<path d="M269.5,614.0L274.5,619.0M269.5,619.0L274.5,614.0" stroke="#111" stroke-width="1.25"/>
<path d="M275.0,614.6L280.0,619.6M275.0,619.6L280.0,614.6" stroke="#111" stroke-width="1.25"/>
<path d="M281.6,612.3L286.6,617.3M281.6,617.3L286.6,612.3" stroke="#111" stroke-width="1.25"/>
<path d="M287.8,608.7L292.8,613.7M287.8,613.7L292.8,608.7" stroke="#111" stroke-width="1.25"/>
<path d="M293.9,608.7L298.9,613.7M293.9,613.7L298.9,608.7" stroke="#111" stroke-width="1.25"/>
<path d="M300.6,606.1L305.6,611.1M300.6,611.1L305.6,606.1" stroke="#111" stroke-width="1.25"/>
<path d="M307.3,604.9L312.3,609.9M307.3,609.9L312.3,604.9" stroke="#111" stroke-width="1.25"/>
<path d="M313.4,604.9L318.4,609.9M313.4,609.9L318.4,604.9" stroke="#111" stroke-width="1.25"/>
<text x="336.3" y="634.4" font-size="9.5" text-anchor="middle" fill="#000" stroke="#000" stroke-width="0.2" >Experimental R² = 0.993</text>
<text x="336.3" y="645.9" font-size="9.5" text-anchor="middle" fill="#000" stroke="#000" stroke-width="0.2" >Simulation R² = 0.964</text>
<text x="436.8" y="478.3" font-size="15.3" font-weight="bold" fill="#4a4a4a">G</text>
<text x="509.9" y="478.8" font-size="12.75" text-anchor="middle" fill="#000" stroke="#000" stroke-width="0.2" >Experimental</text>
<text x="510" y="490.9" font-size="12.75" text-anchor="middle" fill="#000" stroke="#000" stroke-width="0.2" >group results</text>
<rect x="462" y="498.5" width="31.69999999999999" height="159.5" fill="#fff" stroke="#333" stroke-width="1.0"/>
<line x1="462" y1="658.0" x2="464" y2="658.0" stroke="#555" stroke-width="1"/>
<text x="460.5" y="661.0" font-size="8.3" text-anchor="end" fill="#000" stroke="#000" stroke-width="0.2" >0</text>
<line x1="462" y1="620.6" x2="464" y2="620.6" stroke="#555" stroke-width="1"/>
<text x="460.5" y="623.6" font-size="8.3" text-anchor="end" fill="#000" stroke="#000" stroke-width="0.2" >2</text>
<line x1="462" y1="583.2" x2="464" y2="583.2" stroke="#555" stroke-width="1"/>
<text x="460.5" y="586.2" font-size="8.3" text-anchor="end" fill="#000" stroke="#000" stroke-width="0.2" >4</text>
<line x1="462" y1="545.8" x2="464" y2="545.8" stroke="#555" stroke-width="1"/>
<text x="460.5" y="548.8" font-size="8.3" text-anchor="end" fill="#000" stroke="#000" stroke-width="0.2" >6</text>
<line x1="462" y1="508.4" x2="464" y2="508.4" stroke="#555" stroke-width="1"/>
<text x="460.5" y="511.4" font-size="8.3" text-anchor="end" fill="#000" stroke="#000" stroke-width="0.2" >8</text>
<text transform="translate(450.5,578.5) rotate(-90)" font-size="9.5" text-anchor="middle" stroke="#000" stroke-width="0.2">Rheobase (mA)</text>
<path d="M477.9,656.1V645.1M477.9,597.2V572.0" stroke="#111" stroke-width="1.3" stroke-dasharray="4,2.5"/>
<path d="M474.9,656.1H482.2M474.9,572.0H482.2" stroke="#111" stroke-width="1.3"/>
<rect x="469.6" y="597.2" width="16.6" height="47.9" fill="#fff" stroke="#b4584a" stroke-width="1.1"/>
<line x1="469.6" y1="629.0" x2="486.2" y2="629.0" stroke="#111" stroke-width="1.5"/>
<path d="M475.8,505.8h4M477.8,503.8v4" stroke="#b4584a" stroke-width="1.3"/>
<rect x="529.2" y="498.5" width="32.19999999999993" height="159.5" fill="#fff" stroke="#333" stroke-width="1.0"/>
<line x1="529.2" y1="658.0" x2="531.2" y2="658.0" stroke="#555" stroke-width="1"/>
<text x="527.7" y="661.0" font-size="8.3" text-anchor="end" fill="#000" stroke="#000" stroke-width="0.2" >0</text>
<line x1="529.2" y1="610.9333333333333" x2="531.2" y2="610.9333333333333" stroke="#555" stroke-width="1"/>
<text x="527.7" y="613.9333333333333" font-size="8.3" text-anchor="end" fill="#000" stroke="#000" stroke-width="0.2" >400</text>
<line x1="529.2" y1="563.8666666666667" x2="531.2" y2="563.8666666666667" stroke="#555" stroke-width="1"/>
<text x="527.7" y="566.8666666666667" font-size="8.3" text-anchor="end" fill="#000" stroke="#000" stroke-width="0.2" >800</text>
<line x1="529.2" y1="516.8" x2="531.2" y2="516.8" stroke="#555" stroke-width="1"/>
<text x="527.7" y="519.8" font-size="8.3" text-anchor="end" fill="#000" stroke="#000" stroke-width="0.2" >1200</text>
<text transform="translate(506,578.5) rotate(-90)" font-size="9.5" text-anchor="middle" stroke="#000" stroke-width="0.2">Chronaxie (μs)</text>
<path d="M545.3,654.5V635.6M545.3,613.3V580.9" stroke="#111" stroke-width="1.3" stroke-dasharray="4,2.5"/>
<path d="M541.7,654.5H549M541.7,580.9H549" stroke="#111" stroke-width="1.3"/>
<rect x="536.7" y="613.3" width="17.3" height="22.1" fill="#fff" stroke="#4c7a62" stroke-width="1.1"/>
<line x1="536.7" y1="628.0" x2="554" y2="628.0" stroke="#111" stroke-width="1.5"/>
<path d="M543.3,567.6h4M545.3,565.6v4" stroke="#4c7a62" stroke-width="1.3"/>
<path d="M543.3,505.8h4M545.3,503.8v4" stroke="#4c7a62" stroke-width="1.3"/>
</svg>
</body></html>
